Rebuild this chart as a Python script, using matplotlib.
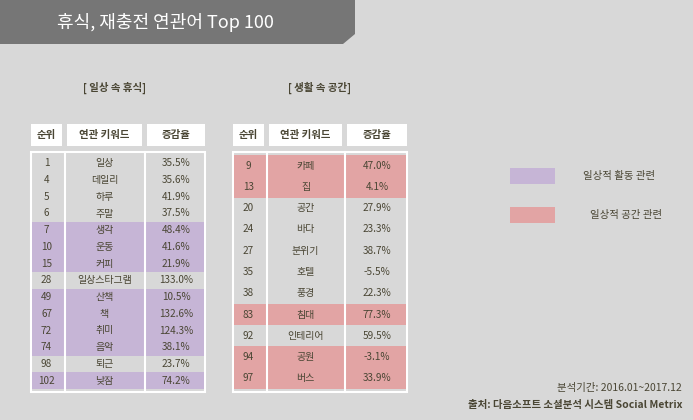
import matplotlib
matplotlib.use("Agg")
import matplotlib.pyplot as plt
from matplotlib.patches import Rectangle, Polygon

plt.rcParams["font.family"] = ["Noto Sans CJK KR", "Noto Sans CJK JP",
                               "Noto Sans CJK SC", "DejaVu Sans"]

# ── data ──────────────────────────────────────────────────────────────────────
left_rank = [1, 4, 5, 6, 7, 10, 15, 28, 49, 67, 72, 74, 98, 102]
left_kw = ["일상", "데일리", "하루", "주말", "생각", "운동", "커피", "일상스타그램",
           "산책", "책", "취미", "음악", "퇴근", "낮잠"]
left_rate = ["35.5%", "35.6%", "41.9%", "37.5%", "48.4%", "41.6%", "21.9%", "133.0%",
             "10.5%", "132.6%", "124.3%", "38.1%", "23.7%", "74.2%"]
left_hl = [False, False, False, False, True, True, True, False,
           True, True, True, True, False, True]

right_rank = [9, 13, 20, 24, 27, 35, 38, 83, 92, 94, 97]
right_kw = ["카페", "집", "공간", "바다", "분위기", "호텔", "풍경", "침대", "인테리어", "공원", "버스"]
right_rate = ["47.0%", "4.1%", "27.9%", "23.3%", "38.7%", "-5.5%", "22.3%", "77.3%",
              "59.5%", "-3.1%", "33.9%"]
right_hl = [True, True, False, False, False, False, False, True, False, True, True]

headers = ["순위", "연관 키워드", "증감율"]

BG = "#d8d8d8"
TXT = "#4a4634"
PURPLE = "#c6b5d6"
PINK = "#e2a4a4"

fig = plt.figure(figsize=(6.93, 4.20), dpi=100)
fig.patch.set_facecolor(BG)
ax = fig.add_axes([0, 0, 1, 1])
ax.set_xlim(0, 693)
ax.set_ylim(420, 0)
ax.axis("off")

# title bar
ax.add_patch(Polygon([(0, 0), (355, 0), (355, 34), (343, 44), (0, 44)],
                     closed=True, color="#767676", lw=0))
ax.text(165, 22, "휴식, 재충전 연관어 Top 100", color="white", fontsize=13,
        ha="center", va="center")


def draw_table(cols, top, bottom, ranks, kws, rates, hl, hl_color, title, tx):
    ax.text(tx, 88, title, color=TXT, fontsize=7.5, fontweight="bold",
            ha="center", va="center")
    for (x0, x1), h in zip(cols, headers):
        ax.add_patch(Rectangle((x0, 124), x1 - x0, 22, color="white", lw=0))
        ax.text((x0 + x1) / 2, 135, h, color=TXT, fontsize=7.5,
                fontweight="bold", ha="center", va="center")
    left, right = cols[0][0], cols[-1][1]
    ax.add_patch(Rectangle((left, top), right - left, bottom - top,
                           facecolor=BG, edgecolor="white", lw=1.5))
    n = len(ranks)
    step = (bottom - top - 6) / n
    for i in range(n):
        y0 = top + 3 + i * step
        yc = y0 + step / 2
        if hl[i]:
            ax.add_patch(Rectangle((left + 1, y0), right - left - 2, step,
                                   color=hl_color, lw=0))
        vals = [str(ranks[i]), kws[i], rates[i]]
        for (x0, x1), v in zip(cols, vals):
            ax.text((x0 + x1) / 2, yc, v, color=TXT, fontsize=7.2,
                    ha="center", va="center")
    for (x0, x1), (nx0, nx1) in zip(cols[:-1], cols[1:]):
        xm = (x1 + nx0) / 2
        ax.plot([xm, xm], [top, bottom], color="white", lw=1.5)


draw_table([(31, 62), (67, 142), (147, 205)], 152, 392,
           left_rank, left_kw, left_rate, left_hl, PURPLE, "[ 일상 속 휴식]", 115)
draw_table([(233, 264), (269, 342), (347, 407)], 152, 392,
           right_rank, right_kw, right_rate, right_hl, PINK, "[ 생활 속 공간]", 320)

# legend
ax.add_patch(Rectangle((510, 168), 45, 16, color=PURPLE, lw=0))
ax.text(655, 176, "일상적 활동 관련", color=TXT, fontsize=7.5, ha="right", va="center")
ax.add_patch(Rectangle((510, 207), 45, 16, color=PINK, lw=0))
ax.text(662, 215, "일상적 공간 관련", color=TXT, fontsize=7.5, ha="right", va="center")

# footer
ax.text(682, 388, "분석기간: 2016.01~2017.12", color=TXT, fontsize=7.5,
        ha="right", va="center")
ax.text(682, 405, "출처: 다음소프트 소셜분석 시스템 Social Metrix", color=TXT,
        fontsize=7.5, fontweight="bold", ha="right", va="center")

fig.savefig("out.png", dpi=100, facecolor=fig.get_facecolor())
